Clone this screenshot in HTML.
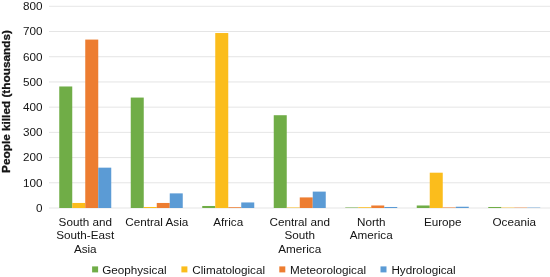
<!DOCTYPE html><html><head><meta charset="utf-8"><title>Chart</title><style>html,body{margin:0;padding:0;background:#fff}svg text{font-family:"Liberation Sans",Arial,sans-serif;fill:#141414}.t{font-size:11.7px}.b{font-size:11.8px;font-weight:bold;stroke:#141414;stroke-width:0.3px}</style></head><body><svg width="550" height="277" viewBox="0 0 550 277" style="display:block">
<rect width="550" height="277" fill="#fff"/>
<line x1="49.0" x2="550" y1="208.00" y2="208.00" stroke="#dcdcdc" stroke-width="0.75"/>
<text x="42.4" y="211.80" text-anchor="end" class="t">0</text>
<line x1="49.0" x2="550" y1="182.79" y2="182.79" stroke="#dcdcdc" stroke-width="0.75"/>
<text x="42.4" y="186.59" text-anchor="end" class="t">100</text>
<line x1="49.0" x2="550" y1="157.57" y2="157.57" stroke="#dcdcdc" stroke-width="0.75"/>
<text x="42.4" y="161.38" text-anchor="end" class="t">200</text>
<line x1="49.0" x2="550" y1="132.36" y2="132.36" stroke="#dcdcdc" stroke-width="0.75"/>
<text x="42.4" y="136.16" text-anchor="end" class="t">300</text>
<line x1="49.0" x2="550" y1="107.15" y2="107.15" stroke="#dcdcdc" stroke-width="0.75"/>
<text x="42.4" y="110.95" text-anchor="end" class="t">400</text>
<line x1="49.0" x2="550" y1="81.94" y2="81.94" stroke="#dcdcdc" stroke-width="0.75"/>
<text x="42.4" y="85.74" text-anchor="end" class="t">500</text>
<line x1="49.0" x2="550" y1="56.72" y2="56.72" stroke="#dcdcdc" stroke-width="0.75"/>
<text x="42.4" y="60.52" text-anchor="end" class="t">600</text>
<line x1="49.0" x2="550" y1="31.51" y2="31.51" stroke="#dcdcdc" stroke-width="0.75"/>
<text x="42.4" y="35.31" text-anchor="end" class="t">700</text>
<line x1="49.0" x2="550" y1="6.30" y2="6.30" stroke="#dcdcdc" stroke-width="0.75"/>
<text x="42.4" y="10.10" text-anchor="end" class="t">800</text>
<rect x="59.25" y="86.48" width="13.0" height="121.52" fill="#70AD47"/>
<rect x="72.25" y="202.96" width="13.0" height="5.04" fill="#FBBD1C"/>
<rect x="85.25" y="39.58" width="13.0" height="168.42" fill="#ED7D31"/>
<rect x="98.25" y="167.66" width="13.0" height="40.34" fill="#5B9BD5"/>
<text x="85.25" y="225.70" text-anchor="middle" class="t">South and</text>
<text x="85.25" y="239.20" text-anchor="middle" class="t">South-East</text>
<text x="85.25" y="252.70" text-anchor="middle" class="t">Asia</text>
<rect x="130.75" y="97.57" width="13.0" height="110.43" fill="#70AD47"/>
<rect x="143.75" y="206.99" width="13.0" height="1.01" fill="#FBBD1C"/>
<rect x="156.75" y="202.96" width="13.0" height="5.04" fill="#ED7D31"/>
<rect x="169.75" y="193.38" width="13.0" height="14.62" fill="#5B9BD5"/>
<text x="156.75" y="225.70" text-anchor="middle" class="t">Central Asia</text>
<rect x="202.25" y="205.98" width="13.0" height="2.02" fill="#70AD47"/>
<rect x="215.25" y="33.03" width="13.0" height="174.97" fill="#FBBD1C"/>
<rect x="228.25" y="207.24" width="13.0" height="0.76" fill="#ED7D31"/>
<rect x="241.25" y="202.45" width="13.0" height="5.55" fill="#5B9BD5"/>
<text x="228.25" y="225.70" text-anchor="middle" class="t">Africa</text>
<rect x="273.75" y="115.22" width="13.0" height="92.78" fill="#70AD47"/>
<rect x="286.75" y="207.50" width="13.0" height="0.50" fill="#FBBD1C"/>
<rect x="299.75" y="197.41" width="13.0" height="10.59" fill="#ED7D31"/>
<rect x="312.75" y="191.61" width="13.0" height="16.39" fill="#5B9BD5"/>
<text x="299.75" y="225.70" text-anchor="middle" class="t">Central and</text>
<text x="299.75" y="239.20" text-anchor="middle" class="t">South</text>
<text x="299.75" y="252.70" text-anchor="middle" class="t">America</text>
<rect x="345.25" y="207.50" width="13.0" height="0.50" fill="#70AD47"/>
<rect x="358.25" y="207.24" width="13.0" height="0.76" fill="#FBBD1C"/>
<rect x="371.25" y="205.48" width="13.0" height="2.52" fill="#ED7D31"/>
<rect x="384.25" y="206.99" width="13.0" height="1.01" fill="#5B9BD5"/>
<text x="371.25" y="225.70" text-anchor="middle" class="t">North</text>
<text x="371.25" y="239.20" text-anchor="middle" class="t">America</text>
<rect x="416.75" y="205.48" width="13.0" height="2.52" fill="#70AD47"/>
<rect x="429.75" y="172.70" width="13.0" height="35.30" fill="#FBBD1C"/>
<rect x="442.75" y="207.50" width="13.0" height="0.50" fill="#ED7D31"/>
<rect x="455.75" y="206.74" width="13.0" height="1.26" fill="#5B9BD5"/>
<text x="442.75" y="225.70" text-anchor="middle" class="t">Europe</text>
<rect x="488.25" y="206.99" width="13.0" height="1.01" fill="#70AD47"/>
<rect x="501.25" y="207.62" width="13.0" height="0.38" fill="#FBBD1C"/>
<rect x="514.25" y="207.62" width="13.0" height="0.38" fill="#ED7D31"/>
<rect x="527.25" y="207.62" width="13.0" height="0.38" fill="#5B9BD5"/>
<text x="514.25" y="225.70" text-anchor="middle" class="t">Oceania</text>
<text transform="translate(9.6,101.5) rotate(-90)" text-anchor="middle" class="b">People killed (thousands)</text>
<rect x="92.1" y="266.4" width="6" height="6" fill="#70AD47"/>
<text x="102.2" y="273.5" class="t">Geophysical</text>
<rect x="181.4" y="266.4" width="6" height="6" fill="#FBBD1C"/>
<text x="192.3" y="273.5" class="t">Climatological</text>
<rect x="279.3" y="266.4" width="6" height="6" fill="#ED7D31"/>
<text x="290.0" y="273.5" class="t">Meteorological</text>
<rect x="380.5" y="266.4" width="6" height="6" fill="#5B9BD5"/>
<text x="391.4" y="273.5" class="t">Hydrological</text>
</svg></body></html>
